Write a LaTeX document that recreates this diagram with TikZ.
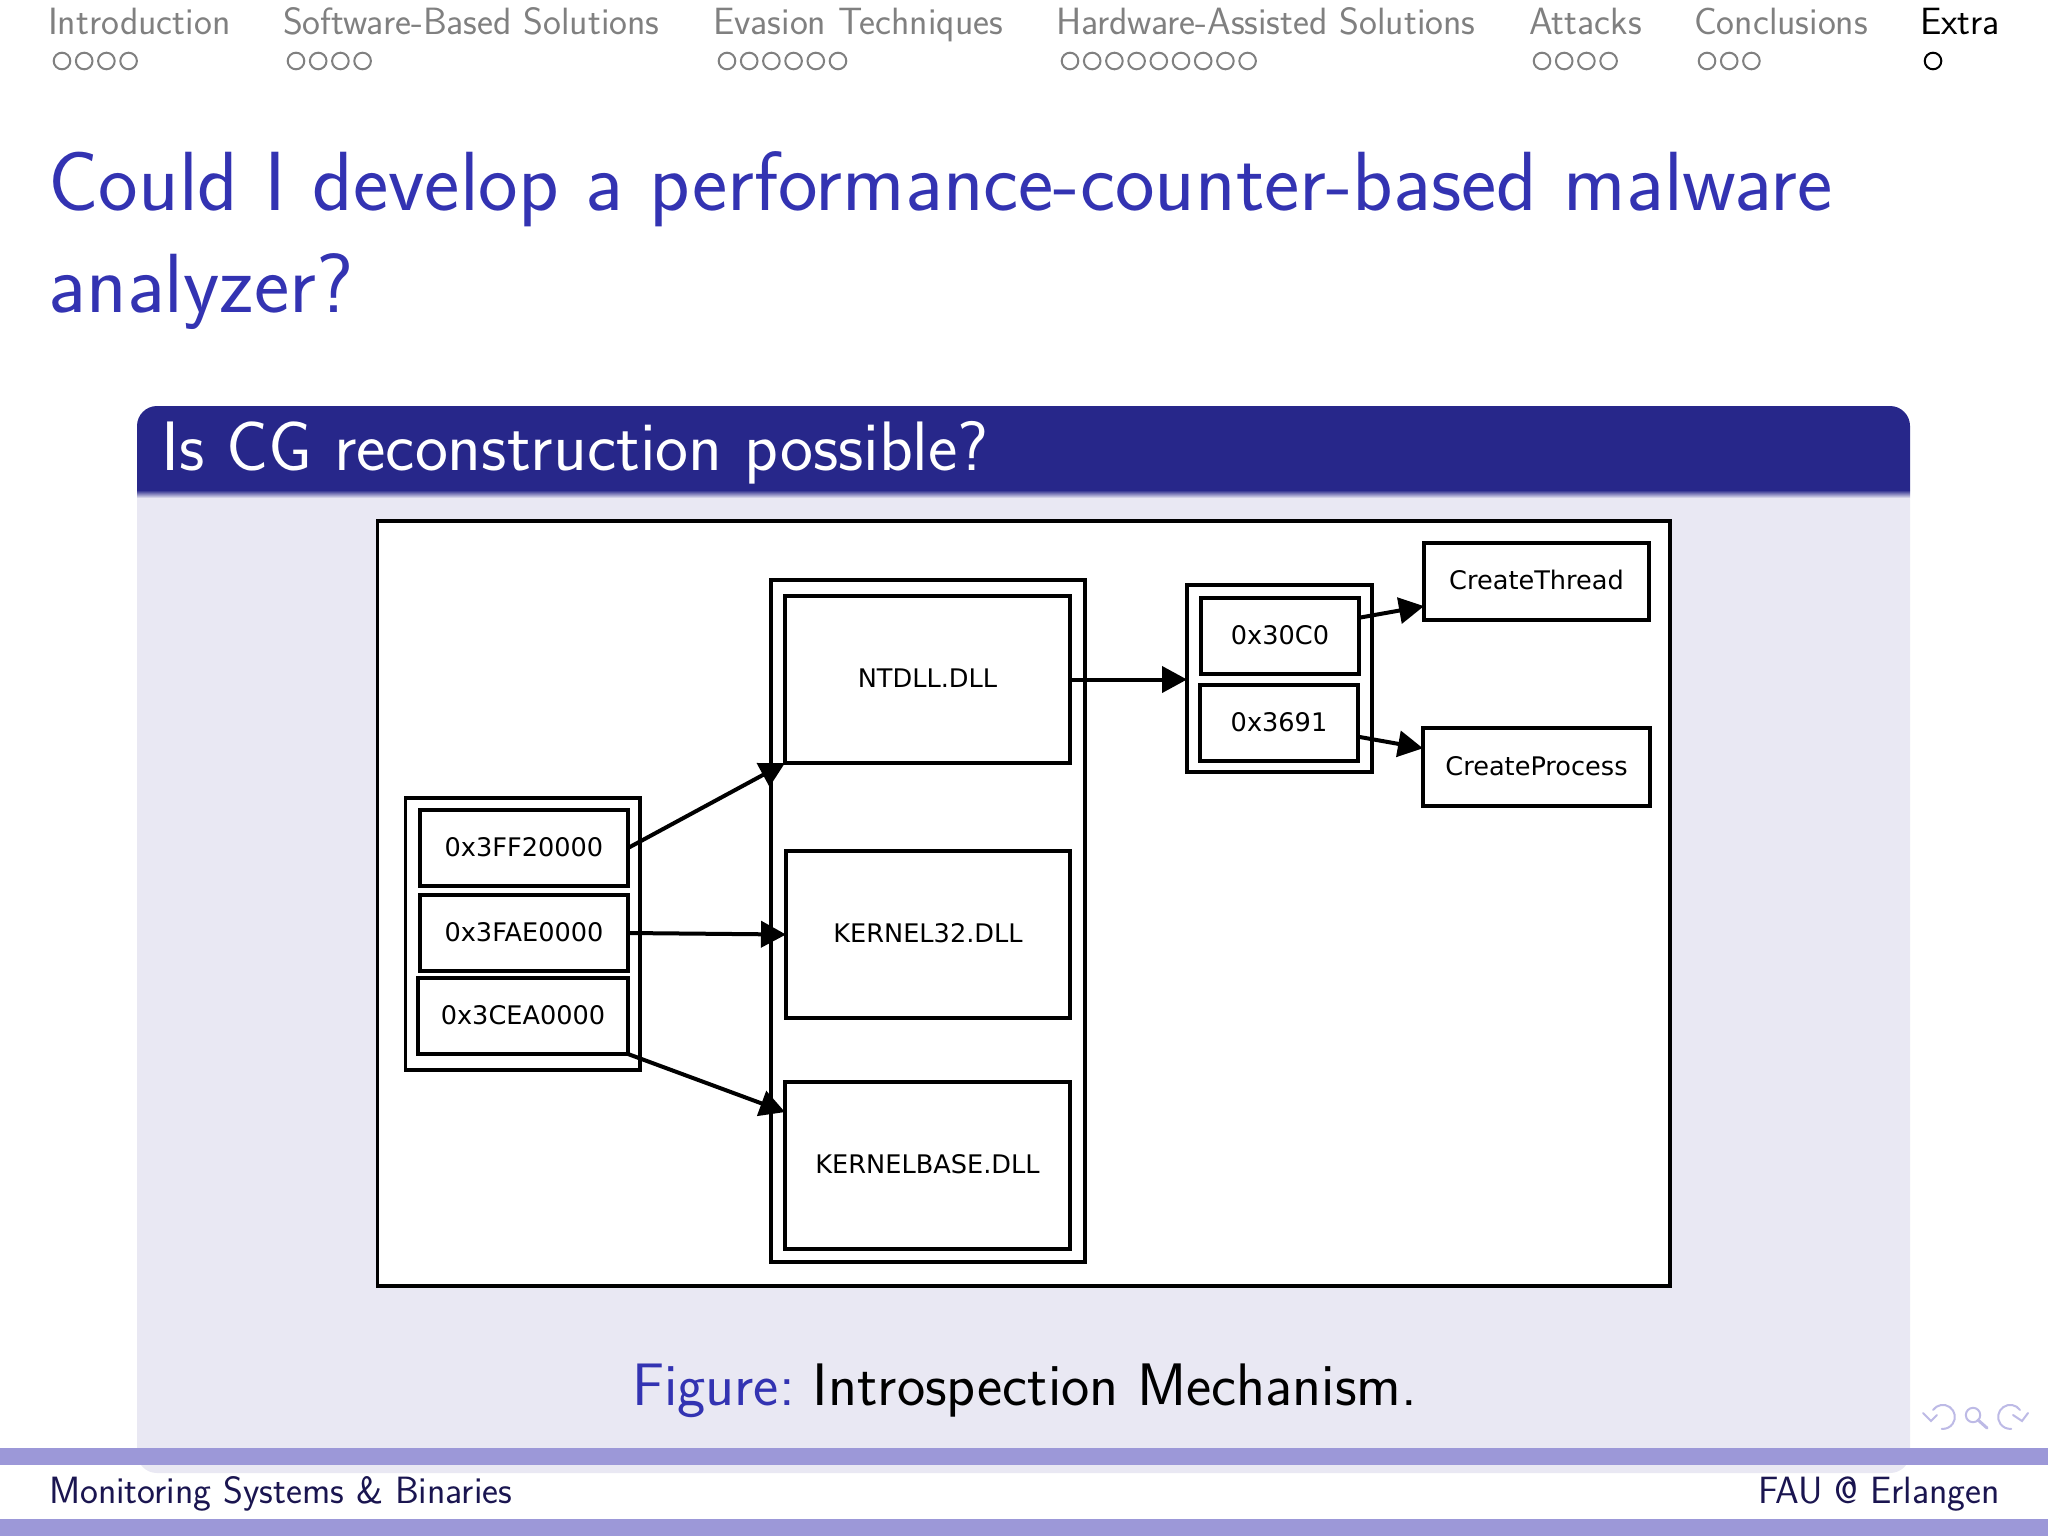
\documentclass[tikz,border=0pt]{standalone}
\usepackage{fontspec}
\usetikzlibrary{arrows.meta,calc}
\newfontfamily\dejavu{DejaVu Sans}
\definecolor{navgray}{HTML}{808080}
\definecolor{bluetitle}{HTML}{3333B2}
\definecolor{headblue}{HTML}{27278A}
\definecolor{blockbg}{HTML}{E9E8F3}
\definecolor{bandcol}{HTML}{9C98D8}
\definecolor{iconcol}{HTML}{BDBAE6}
\definecolor{footnavy}{HTML}{1A1550}
\tikzset{
  x=0.5pt,y=-0.5pt,
  txt/.style={inner sep=0pt,outer sep=0pt,anchor=base west},
  navtxt/.style={txt,text=navgray,font=\sffamily\fontsize{19}{23}\selectfont},
  foottxt/.style={txt,text=footnavy,font=\sffamily\fontsize{19}{23}\selectfont},
  dotmark/.style={circle,draw=navgray,line width=1pt,minimum size=8.3pt,inner sep=0pt},
  gbox/.style={rectangle,draw=black,line width=1.8pt,inner sep=0pt,outer sep=0pt,text depth=1.3pt,
     font=\dejavu\fontsize{12.8}{15}\selectfont},
  conn/.style={draw=black,line width=2pt,-{Triangle[length=12.5pt,width=13pt]}},
}
\newcommand{\gnode}[6]{% name, x1,y1,x2,y2,text
  \path let \n1={(#2+#4)/2},\n2={(#3+#5)/2},\n3={(#4-#2)*0.5},\n4={(#5-#3)*0.5} in
    node[gbox,minimum width=\n3 pt,minimum height=\n4 pt] (#1) at (\n1,\n2) {#6};}
\begin{document}
\begin{tikzpicture}
\useasboundingbox (0,0) rectangle (2048,1536);
\fill[white] (0,0) rectangle (2048,1536);
% navigation
\node[navtxt] (nav1) at (48,35) {Introduction};
\node[navtxt] (nav2) at (283,35) {Software-Based Solutions};
\node[navtxt] (nav3) at (713,35) {Evasion Techniques};
\node[navtxt] (nav4) at (1056,35) {Hardware-Assisted Solutions};
\node[navtxt] (nav5) at (1529,35) {Attacks};
\node[navtxt] (nav6) at (1694,35) {Conclusions};
\node[navtxt,text=black] (nav7) at (1920,35) {Extra};
\foreach \sx/\n/\id in {62/4/a,296/4/b,727/6/c,1070/9/d,1542/4/e,1707/3/f}{
  \foreach \k in {1,...,\n}{
    \node[dotmark] (\id\k) at ({\sx+(\k-1)*22.2},61) {};
  }
}
\node[dotmark,draw=black] (g1) at (1933,61) {};
% title
\node[inner sep=0pt,outer sep=0pt,anchor=north west,align=left,text=bluetitle,
  font=\sffamily\fontsize{42}{51}\selectfont] (title) at (48.5,152)
  {Could I develop a performance-counter-based malware\\analyzer?};
% block
\fill[blockbg,rounded corners=10pt] (137,480) rectangle (1910,1473);
\fill[headblue] (137,490) -- (137,426) arc[start angle=180,end angle=90,radius=10pt] -- (1890,406) arc[start angle=90,end angle=0,radius=10pt] -- (1910,490) -- cycle;
\shade[top color=headblue,bottom color=blockbg] (137,490) rectangle (1910,498);
\node[txt,text=white,font=\sffamily\fontsize{35}{42}\selectfont] (head) at (161,470) {Is CG reconstruction possible?};
% figure frame
\draw[draw=black,fill=white,line width=1.6pt] (377.5,521) rectangle (1670,1286);
\gnode{grpL}{405.5}{798}{640}{1070}{}
\gnode{a1}{420}{810}{628}{886}{0x3FF20000}
\gnode{a2}{420}{895}{628}{971}{0x3FAE0000}
\gnode{a3}{418}{978}{628}{1054}{0x3CEA0000}
\gnode{grpM}{771}{580}{1085}{1262}{}
\gnode{ntdll}{785}{596}{1070}{763}{NTDLL.DLL}
\gnode{k32}{786}{851}{1070}{1018}{KERNEL32.DLL}
\gnode{kb}{785}{1082}{1070}{1249}{KERNELBASE.DLL}
\gnode{grpR}{1187}{585}{1372}{772}{}
\gnode{r1}{1201}{598}{1359}{674}{0x30C0}
\gnode{r2}{1200}{685}{1358}{761}{0x3691}
\gnode{ct}{1424}{543}{1649}{620}{CreateThread}
\gnode{cp}{1423}{728}{1650}{806}{CreateProcess}
\draw[conn] (a1.east) -- (ntdll.south west);
\draw[conn] (a2.east) -- (k32.west);
\draw[conn] (a3.south east) -- ($(kb.north west)!0.18!(kb.south west)$);
\draw[conn] (ntdll.east) -- (grpR.west |- ntdll.east);
\draw[conn] ($(r1.north east)!0.26!(r1.south east)$) -- ($(ct.south west)!0.18!(ct.north west)$);
\draw[conn] ($(r2.north east)!0.68!(r2.south east)$) -- ($(cp.north west)!0.26!(cp.south west)$);
% caption
\node[txt,font=\sffamily\fontsize{30}{36}\selectfont] (cap) at (632,1405)
  {\textcolor{bluetitle}{Figure:} \kern-3.4pt Introspection Mechanism.};
% bands
\fill[bandcol] (0,1448) rectangle (2048,1465);
\fill[bandcol] (0,1519) rectangle (2048,1536);
\node[foottxt] (fl) at (49,1503) {Monitoring Systems \& Binaries};
\node[foottxt] (fr) at (1758,1503) {FAU @ Erlangen};
% icons
\begin{scope}[draw=iconcol,line width=1pt,line cap=round]
\draw (1933,1410) arc[start angle=145,end angle=-95,radius=6pt];
\draw (1923,1413) -- (1931,1421) -- (1937,1415);
\draw (1973,1415) circle[radius=3.6pt];
\draw[line width=1.5pt] (1978,1420) -- (1987,1428);
\draw (2020,1410) arc[start angle=35,end angle=275,radius=6pt];
\draw (2013,1415) -- (2022,1421) -- (2028,1413);
\end{scope}
\end{tikzpicture}
\end{document}
